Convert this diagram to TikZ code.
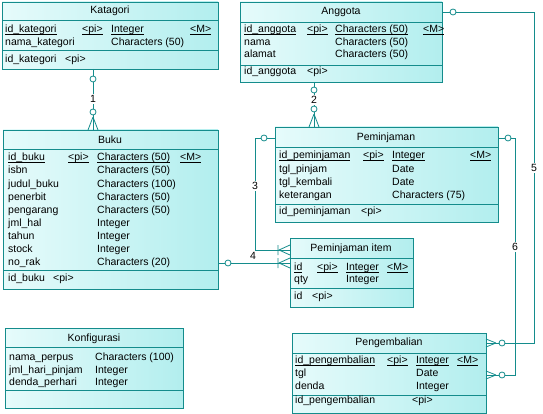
\documentclass[tikz,border=0pt]{standalone}
\usepackage{fontspec}
\setmainfont{Liberation Sans}
\definecolor{bord}{RGB}{20,140,140}
\definecolor{fillL}{RGB}{230,251,251}
\definecolor{fillR}{RGB}{178,238,238}
\newcommand\myul[1]{\setbox0=\hbox{#1}\rlap{\vrule width\wd0 height -1.3pt depth 2.0pt}\box0}
\begin{document}
\begin{tikzpicture}[x=1pt,y=-1pt,
 entity/.style={draw=bord, line width=0.8pt, left color=fillL, right color=fillR, anchor=north west, inner sep=0, outer sep=0},
 sep/.style={draw=bord, line width=0.8pt},
 txt/.style={inner sep=0, anchor=base west, font=\fontsize{10.5}{12}\selectfont},
 hdr/.style={inner sep=0, anchor=base, font=\fontsize{10.5}{12}\selectfont},
 conn/.style={draw=bord, line width=0.8pt},
 ring/.style={circle, draw=bord, fill=white, line width=0.8pt, inner sep=0, minimum size=6pt},
 lbl/.style={fill=white, inner sep=1pt, font=\fontsize{10.5}{12}\selectfont},
]
\useasboundingbox (0,0) rectangle (543,414);

% ---------- Katagori ----------
\node[entity, minimum width=216, minimum height=67] (katagori) at (2,2) {};
\draw[sep] (2,20) -- (218,20) (2,50) -- (218,50);
\node[hdr] (kh) at (110,14) {Katagori};
\node[txt] (k1a) at (5,32.5) {\myul{id\_kategori}};
\node[txt] (k1b) at (82,32.5) {\myul{<pi>}};
\node[txt] (k1c) at (111,32.5) {\myul{Integer}};
\node[txt] (k1d) at (190,32.5) {\myul{<M>}};
\node[txt] (k2a) at (5,45.5) {nama\_kategori};
\node[txt] (k2c) at (111,45.5) {Characters (50)};
\node[txt] (kka) at (5,62.5) {id\_kategori};
\node[txt] (kkb) at (65,62.5) {<pi>};

% ---------- Anggota ----------
\node[entity, minimum width=202, minimum height=80] (anggota) at (240,2) {};
\draw[sep] (240,22) -- (442,22) (240,65) -- (442,65);
\node[hdr] (ah) at (341,15) {Anggota};
\node[txt] (a1a) at (244,32.5) {\myul{id\_anggota}};
\node[txt] (a1b) at (307,32.5) {\myul{<pi>}};
\node[txt] (a1c) at (335,32.5) {\myul{Characters (50)}};
\node[txt] (a1d) at (423,32.5) {\myul{<M>}};
\node[txt] (a2a) at (244,45.5) {nama};
\node[txt] (a2c) at (335,45.5) {Characters (50)};
\node[txt] (a3a) at (244,57.5) {alamat};
\node[txt] (a3c) at (335,57.5) {Characters (50)};
\node[txt] (aka) at (244,74.5) {id\_anggota};
\node[txt] (akb) at (307,74.5) {<pi>};

% ---------- Buku ----------
\node[entity, minimum width=215, minimum height=159] (buku) at (3,130) {};
\draw[sep] (3,149) -- (218,149) (3,270) -- (218,270);
\node[hdr] (bh) at (110,143.5) {Buku};
\node[txt] (b1a) at (8,160.5) {\myul{id\_buku}};
\node[txt] (b1b) at (68,160.5) {\myul{<pi>}};
\node[txt] (b1c) at (97,160.5) {\myul{Characters (50)}};
\node[txt] (b1d) at (180,160.5) {\myul{<M>}};
\node[txt] (b2a) at (8,174) {isbn};
\node[txt] (b2c) at (97,174) {Characters (50)};
\node[txt] (b3a) at (8,187) {judul\_buku};
\node[txt] (b3c) at (97,187) {Characters (100)};
\node[txt] (b4a) at (8,200.5) {penerbit};
\node[txt] (b4c) at (97,200.5) {Characters (50)};
\node[txt] (b5a) at (8,213.5) {pengarang};
\node[txt] (b5c) at (97,213.5) {Characters (50)};
\node[txt] (b6a) at (8,226.5) {jml\_hal};
\node[txt] (b6c) at (97,226.5) {Integer};
\node[txt] (b7a) at (8,239.5) {tahun};
\node[txt] (b7c) at (97,239.5) {Integer};
\node[txt] (b8a) at (8,252.5) {stock};
\node[txt] (b8c) at (97,252.5) {Integer};
\node[txt] (b9a) at (8,265.5) {no\_rak};
\node[txt] (b9c) at (97,265.5) {Characters (20)};
\node[txt] (bka) at (8,281.5) {id\_buku};
\node[txt] (bkb) at (53,281.5) {<pi>};

% ---------- Peminjaman ----------
\node[entity, minimum width=223, minimum height=95] (pem) at (275,127) {};
\draw[sep] (275,147) -- (498,147) (275,204) -- (498,204);
\node[hdr] (ph) at (386,140.5) {Peminjaman};
\node[txt] (p1a) at (279,158.5) {\myul{id\_peminjaman}};
\node[txt] (p1b) at (363,158.5) {\myul{<pi>}};
\node[txt] (p1c) at (392,158.5) {\myul{Integer}};
\node[txt] (p1d) at (470,158.5) {\myul{<M>}};
\node[txt] (p2a) at (279,172.5) {tgl\_pinjam};
\node[txt] (p2c) at (392,172.5) {Date};
\node[txt] (p3a) at (279,185.5) {tgl\_kembali};
\node[txt] (p3c) at (392,185.5) {Date};
\node[txt] (p4a) at (279,198.5) {keterangan};
\node[txt] (p4c) at (392,198.5) {Characters (75)};
\node[txt] (pka) at (279,214.5) {id\_peminjaman};
\node[txt] (pkb) at (361,214.5) {<pi>};

% ---------- Peminjaman item ----------
\node[entity, minimum width=123, minimum height=69] (item) at (290,238) {};
\draw[sep] (290,258) -- (413,258) (290,288) -- (413,288);
\node[hdr] (ih) at (351,251.5) {Peminjaman item};
\node[txt] (i1a) at (294,270.5) {\myul{id}};
\node[txt] (i1b) at (317,270.5) {\myul{<pi>}};
\node[txt] (i1c) at (346,270.5) {\myul{Integer}};
\node[txt] (i1d) at (387,270.5) {\myul{<M>}};
\node[txt] (i2a) at (294,282.5) {qty};
\node[txt] (i2c) at (346,282.5) {Integer};
\node[txt] (ika) at (294,299.5) {id};
\node[txt] (ikb) at (312,299.5) {<pi>};

% ---------- Konfigurasi ----------
\node[entity, minimum width=178, minimum height=80] (konf) at (5,328) {};
\draw[sep] (5,347) -- (183,347) (5,390) -- (183,390);
\node[hdr] (kfh) at (94,341.5) {Konfigurasi};
\node[txt] (f1a) at (9,360.5) {nama\_perpus};
\node[txt] (f1c) at (95,360.5) {Characters (100)};
\node[txt] (f2a) at (9,373.5) {jml\_hari\_pinjam};
\node[txt] (f2c) at (95,373.5) {Integer};
\node[txt] (f3a) at (9,385.5) {denda\_perhari};
\node[txt] (f3c) at (95,385.5) {Integer};

% ---------- Pengembalian ----------
\node[entity, minimum width=194, minimum height=80] (peng) at (292,333) {};
\draw[sep] (292,353) -- (486,353) (292,395) -- (486,395);
\node[hdr] (gh) at (389,345.5) {Pengembalian};
\node[txt] (g1a) at (295,363.5) {\myul{id\_pengembalian}};
\node[txt] (g1b) at (387,363.5) {\myul{<pi>}};
\node[txt] (g1c) at (416,363.5) {\myul{Integer}};
\node[txt] (g1d) at (457,363.5) {\myul{<M>}};
\node[txt] (g2a) at (295,376.5) {tgl};
\node[txt] (g2c) at (416,376.5) {Date};
\node[txt] (g3a) at (295,389.5) {denda};
\node[txt] (g3c) at (416,389.5) {Integer};
\node[txt] (gka) at (295,403.5) {id\_pengembalian};
\node[txt] (gkb) at (412,403.5) {<pi>};

% ---------- connector end points ----------
\coordinate (c1a) at (93,69);   \coordinate (c1b) at (93,130);
\coordinate (c2a) at (314,82);  \coordinate (c2b) at (314,127);
\coordinate (c3a) at (275,138); \coordinate (c3k) at (255,138); \coordinate (c3l) at (255,250); \coordinate (c3b) at (290,250);
\coordinate (c4a) at (218,263); \coordinate (c4b) at (290,263);
\coordinate (c5a) at (442,12);  \coordinate (c5k) at (534,12);  \coordinate (c5l) at (534,343); \coordinate (c5b) at (486,343);
\coordinate (c6a) at (498,138); \coordinate (c6k) at (515,138); \coordinate (c6l) at (515,375); \coordinate (c6b) at (486,375);

% ---------- connectors ----------
\draw[conn] (c1a) -- (c1b);
\draw[conn] (93,117) -- (88,130) (93,117) -- (98,130);
\draw[conn] (c2a) -- (c2b);
\draw[conn] (314,114) -- (309,127) (314,114) -- (319,127);
\draw[conn] (c3a) -- (c3k) -- (c3l) -- (c3b);
\draw[conn] (278,245) -- (278,255) (279,250) -- (290,245) (279,250) -- (290,255);
\draw[conn] (c4a) -- (c4b);
\draw[conn] (278,258) -- (278,268) (279,263) -- (290,258) (279,263) -- (290,268);
\draw[conn] (c5a) -- (c5k) -- (c5l) -- (c5b);
\draw[conn] (496,343) -- (486,339) (496,343) -- (486,347);
\draw[conn] (c6a) -- (c6k) -- (c6l) -- (c6b);
\draw[conn] (496,375) -- (486,371) (496,375) -- (486,379);

% rings
\node[ring] (r1a) at (93,79) {};
\node[ring] (r1b) at (93,112) {};
\node[ring] (r2a) at (314,90) {};
\node[ring] (r2b) at (314,109) {};
\node[ring] (r3) at (264,138) {};
\node[ring] (r4) at (228,263) {};
\node[ring] (r5a) at (453,12) {};
\node[ring] (r5b) at (502,343) {};
\node[ring] (r6a) at (508,138) {};
\node[ring] (r6b) at (502,375) {};

% labels
\node[lbl] (l1) at (93,99) {1};
\node[lbl] (l2) at (314,100) {2};
\node[lbl] (l3) at (255,186) {3};
\node[lbl, fill=none] (l4) at (253,256) {4};
\node[lbl] (l5) at (534,168) {5};
\node[lbl] (l6) at (515,247) {6};
\end{tikzpicture}
\end{document}
